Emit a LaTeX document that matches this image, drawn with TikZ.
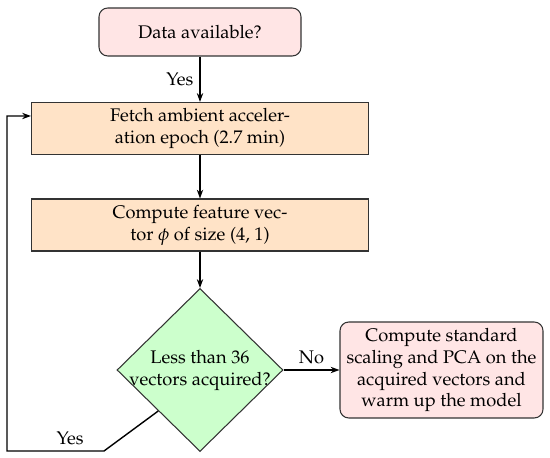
\documentclass[tikz,border=0pt]{standalone}
\usepackage[T1]{fontenc}
\usepackage{mathpazo}
\usetikzlibrary{shapes.geometric,arrows.meta}

\begin{document}
\begin{tikzpicture}[
    font=\fontsize{10.4}{12.5}\selectfont,
    >={Stealth[length=5pt,width=3.6pt]},
    startbox/.style={draw=black!80, semithick, rounded corners=5pt, fill=red!10, minimum width=4.04cm, minimum height=0.96cm, align=center},
    stepbox/.style={draw=black!80, semithick, fill=orange!22, minimum width=6.74cm, minimum height=0.98cm, align=center},
    decision/.style={draw=black!80, semithick, diamond, fill=green!20, minimum width=3.32cm, minimum height=3.26cm, inner sep=0pt},
    endbox/.style={draw=black!80, semithick, rounded corners=5pt, fill=red!10, minimum width=4.06cm, minimum height=1.76cm, align=center},
    flow/.style={->, thick}
]
    \useasboundingbox (0,0) rectangle (11,-9.16);

    \node[startbox] (avail) at (4,-0.64) {Data available?};

    \node[stepbox] (fetch) at (4,-2.57) {Fetch ambient acceler-\\ation epoch (2.7 min)};

    \node[stepbox] (feat) at (4,-4.5) {Compute feature vec-\\tor $\phi$ of size (4, 1)};

    \node[decision] (less) at (4,-7.4) {};
    \node[align=center] (lesstext) at (less) {Less than 36\\vectors acquired?};

    \node[endbox] (warm) at (8.83,-7.4) {Compute standard\\scaling and PCA on the\\acquired vectors and\\warm up the model};

    \draw[flow] (avail) -- node[left] {Yes} (fetch);
    \draw[flow] (fetch) -- (feat);
    \draw[flow] (feat) -- (less);
    \draw[flow] (less.east) -- node[above] {No} (warm.west);

    \coordinate (bend) at (2.08,-9.02);
    \coordinate (corner) at (0.14,-9.02);
    \draw[flow] (less.south west) -- (bend) -- node[pos=0.35, above] {Yes} (corner) |- ([yshift=0.25cm]fetch.west);

\end{tikzpicture}
\end{document}
